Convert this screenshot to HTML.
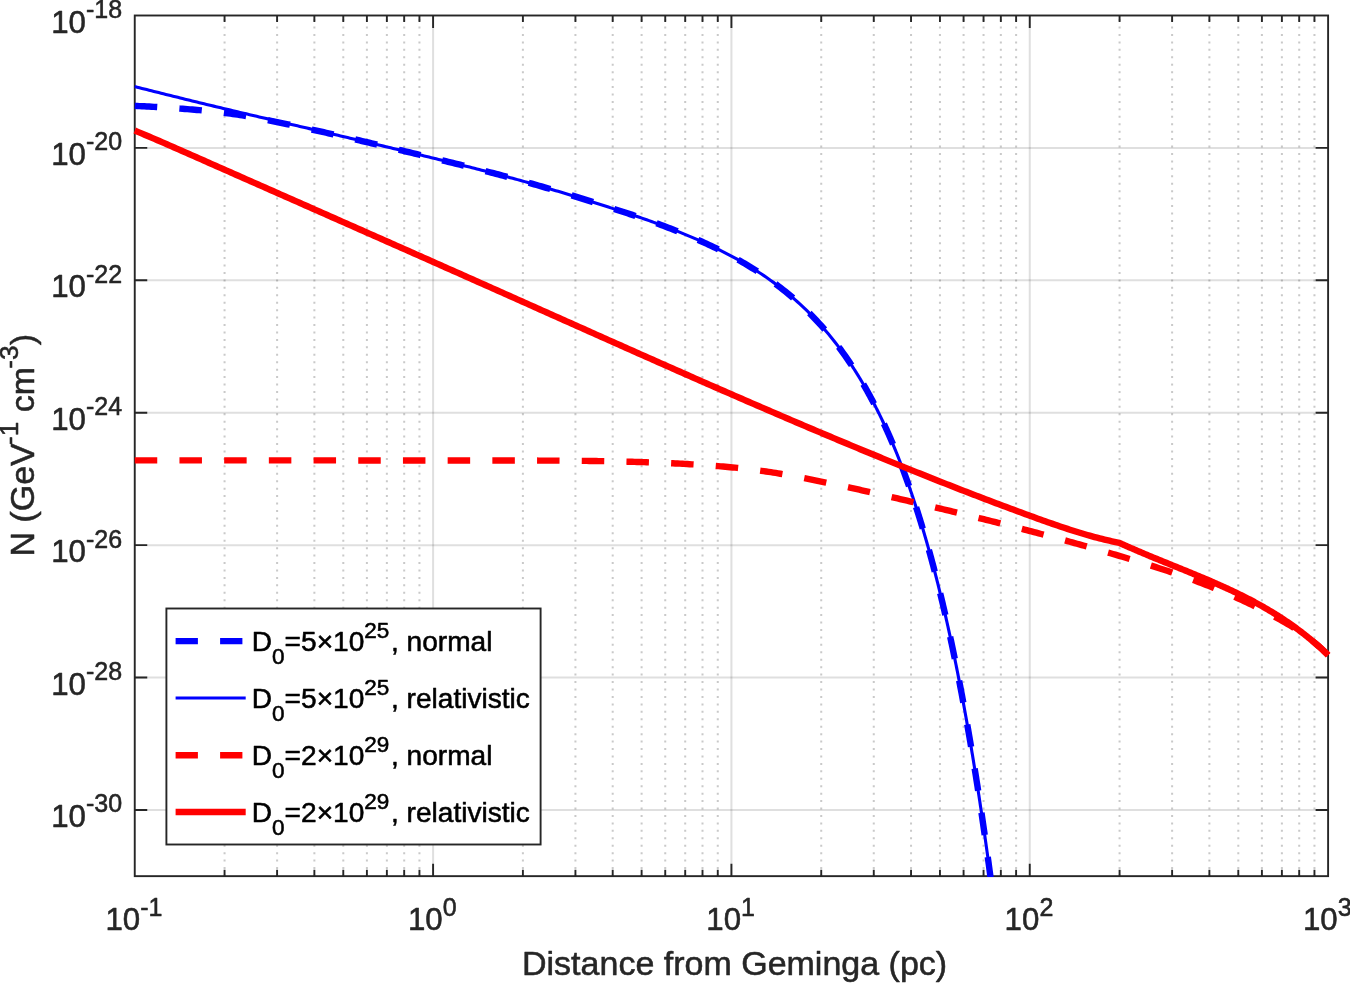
<!DOCTYPE html>
<html lang="en"><head><meta charset="utf-8"><title>N vs distance from Geminga</title>
<style>html,body{margin:0;padding:0;background:#fff}body{width:1350px;height:983px;overflow:hidden}</style></head>
<body>
<svg width="1350" height="983" viewBox="0 0 1350 983" style="display:block;font-family:'Liberation Sans', Arial, Helvetica, sans-serif">
<rect width="1350" height="983" fill="#fff"/>
<defs><clipPath id="cp"><rect x="126.75" y="14.60" width="1209.35" height="862.45"/></clipPath></defs>
<g stroke="#262626" stroke-opacity="0.15" stroke-width="2" fill="none">
<path d="M433.09 15.5V876.15"/>
<path d="M731.42 15.5V876.15"/>
<path d="M1029.76 15.5V876.15"/>
<path d="M134.75 809.95H1328.1"/>
<path d="M134.75 677.54H1328.1"/>
<path d="M134.75 545.13H1328.1"/>
<path d="M134.75 412.72H1328.1"/>
<path d="M134.75 280.32H1328.1"/>
<path d="M134.75 147.91H1328.1"/>
</g>
<g stroke="#262626" stroke-opacity="0.25" stroke-width="2" stroke-dasharray="2 5.438" fill="none">
<path d="M224.56 876.45V15.5"/>
<path d="M277.09 876.45V15.5"/>
<path d="M314.37 876.45V15.5"/>
<path d="M343.28 876.45V15.5"/>
<path d="M366.90 876.45V15.5"/>
<path d="M386.87 876.45V15.5"/>
<path d="M404.18 876.45V15.5"/>
<path d="M419.44 876.45V15.5"/>
<path d="M522.90 876.45V15.5"/>
<path d="M575.43 876.45V15.5"/>
<path d="M612.70 876.45V15.5"/>
<path d="M641.62 876.45V15.5"/>
<path d="M665.24 876.45V15.5"/>
<path d="M685.21 876.45V15.5"/>
<path d="M702.51 876.45V15.5"/>
<path d="M717.77 876.45V15.5"/>
<path d="M821.23 876.45V15.5"/>
<path d="M873.77 876.45V15.5"/>
<path d="M911.04 876.45V15.5"/>
<path d="M939.95 876.45V15.5"/>
<path d="M963.58 876.45V15.5"/>
<path d="M983.55 876.45V15.5"/>
<path d="M1000.85 876.45V15.5"/>
<path d="M1016.11 876.45V15.5"/>
<path d="M1119.57 876.45V15.5"/>
<path d="M1172.11 876.45V15.5"/>
<path d="M1209.38 876.45V15.5"/>
<path d="M1238.29 876.45V15.5"/>
<path d="M1261.91 876.45V15.5"/>
<path d="M1281.89 876.45V15.5"/>
<path d="M1299.19 876.45V15.5"/>
<path d="M1314.45 876.45V15.5"/>
</g>
<g stroke="#262626" stroke-width="1.9" fill="none" stroke-linecap="butt">
<rect x="134.75" y="15.5" width="1193.35" height="860.65"/>
<path d="M433.09 876.15v-12.5M433.09 15.5v12.5M731.42 876.15v-12.5M731.42 15.5v12.5M1029.76 876.15v-12.5M1029.76 15.5v12.5M224.56 876.15v-6.5M224.56 15.5v6.5M277.09 876.15v-6.5M277.09 15.5v6.5M314.37 876.15v-6.5M314.37 15.5v6.5M343.28 876.15v-6.5M343.28 15.5v6.5M366.90 876.15v-6.5M366.90 15.5v6.5M386.87 876.15v-6.5M386.87 15.5v6.5M404.18 876.15v-6.5M404.18 15.5v6.5M419.44 876.15v-6.5M419.44 15.5v6.5M522.90 876.15v-6.5M522.90 15.5v6.5M575.43 876.15v-6.5M575.43 15.5v6.5M612.70 876.15v-6.5M612.70 15.5v6.5M641.62 876.15v-6.5M641.62 15.5v6.5M665.24 876.15v-6.5M665.24 15.5v6.5M685.21 876.15v-6.5M685.21 15.5v6.5M702.51 876.15v-6.5M702.51 15.5v6.5M717.77 876.15v-6.5M717.77 15.5v6.5M821.23 876.15v-6.5M821.23 15.5v6.5M873.77 876.15v-6.5M873.77 15.5v6.5M911.04 876.15v-6.5M911.04 15.5v6.5M939.95 876.15v-6.5M939.95 15.5v6.5M963.58 876.15v-6.5M963.58 15.5v6.5M983.55 876.15v-6.5M983.55 15.5v6.5M1000.85 876.15v-6.5M1000.85 15.5v6.5M1016.11 876.15v-6.5M1016.11 15.5v6.5M1119.57 876.15v-6.5M1119.57 15.5v6.5M1172.11 876.15v-6.5M1172.11 15.5v6.5M1209.38 876.15v-6.5M1209.38 15.5v6.5M1238.29 876.15v-6.5M1238.29 15.5v6.5M1261.91 876.15v-6.5M1261.91 15.5v6.5M1281.89 876.15v-6.5M1281.89 15.5v6.5M1299.19 876.15v-6.5M1299.19 15.5v6.5M1314.45 876.15v-6.5M1314.45 15.5v6.5M134.75 809.95h12.5M1328.1 809.95h-12.5M134.75 677.54h12.5M1328.1 677.54h-12.5M134.75 545.13h12.5M1328.1 545.13h-12.5M134.75 412.72h12.5M1328.1 412.72h-12.5M134.75 280.32h12.5M1328.1 280.32h-12.5M134.75 147.91h12.5M1328.1 147.91h-12.5"/>
</g>
<g clip-path="url(#cp)" fill="none" stroke-linejoin="round">
<path d="M134.75 105.90L137.14 106.00L139.53 106.10L141.93 106.21L144.32 106.32L146.71 106.44L149.10 106.57L151.49 106.70L153.89 106.84L156.28 106.97L158.67 107.12L161.06 107.26L163.46 107.41L165.85 107.57L168.24 107.73L170.63 107.89L173.02 108.06L175.42 108.23L177.81 108.40L180.20 108.58L182.59 108.77L184.98 108.95L187.38 109.14L189.77 109.34L192.16 109.54L194.55 109.75L196.95 109.96L199.34 110.18L201.73 110.40L204.12 110.63L206.51 110.87L208.91 111.12L211.30 111.37L213.69 111.63L216.08 111.89L218.47 112.16L220.87 112.44L223.26 112.73L225.65 113.03L228.04 113.33L230.44 113.64L232.83 113.96L235.22 114.29L237.61 114.63L240.00 114.99L242.40 115.38L244.79 115.77L247.18 116.19L249.57 116.62L251.96 117.06L254.36 117.51L256.75 117.97L259.14 118.44L261.53 118.92L263.93 119.40L266.32 119.88L268.71 120.37L271.10 120.86L273.49 121.35L275.89 121.83L278.28 122.32L280.67 122.80L283.06 123.29L285.45 123.78L287.85 124.29L290.24 124.79L292.63 125.31L295.02 125.82L297.42 126.35L299.81 126.87L302.20 127.40L304.59 127.93L306.98 128.46L309.38 129.00L311.77 129.53L314.16 130.07L316.55 130.60L318.94 131.14L321.34 131.68L323.73 132.21L326.12 132.75L328.51 133.29L330.91 133.83L333.30 134.37L335.69 134.91L338.08 135.46L340.47 136.01L342.87 136.56L345.26 137.11L347.65 137.66L350.04 138.22L352.43 138.77L354.83 139.33L357.22 139.89L359.61 140.45L362.00 141.02L364.40 141.59L366.79 142.15L369.18 142.72L371.57 143.29L373.96 143.86L376.36 144.42L378.75 144.99L381.14 145.56L383.53 146.13L385.92 146.70L388.32 147.27L390.71 147.84L393.10 148.41L395.49 148.98L397.89 149.56L400.28 150.13L402.67 150.70L405.06 151.28L407.45 151.85L409.85 152.43L412.24 153.00L414.63 153.58L417.02 154.16L419.41 154.74L421.81 155.32L424.20 155.90L426.59 156.48L428.98 157.07L431.38 157.65L433.77 158.24L436.16 158.83L438.55 159.41L440.94 160.00L443.34 160.59L445.73 161.18L448.12 161.77L450.51 162.36L452.90 162.95L455.30 163.54L457.69 164.13L460.08 164.72L462.47 165.32L464.87 165.92L467.26 166.51L469.65 167.11L472.04 167.71L474.43 168.32L476.83 168.92L479.22 169.53L481.61 170.14L484.00 170.75L486.39 171.36L488.79 171.98L491.18 172.59L493.57 173.21L495.96 173.84L498.36 174.46L500.75 175.09L503.14 175.73L505.53 176.37L507.92 177.01L510.32 177.66L512.71 178.31L515.10 178.96L517.49 179.62L519.88 180.29L522.28 180.95L524.67 181.63L527.06 182.30L529.45 182.98L531.85 183.66L534.24 184.34L536.63 185.03L539.02 185.72L541.41 186.42L543.81 187.11L546.20 187.81L548.59 188.52L550.98 189.22L553.37 189.93L555.77 190.64L558.16 191.35L560.55 192.06L562.94 192.78L565.34 193.50L567.73 194.22L570.12 194.94L572.51 195.67L574.90 196.40L577.30 197.13L579.69 197.86L582.08 198.61L584.47 199.36L586.86 200.12L589.26 200.88L591.65 201.65L594.04 202.42L596.43 203.19L598.83 203.97L601.22 204.74L603.61 205.52L606.00 206.30L608.39 207.08L610.79 207.86L613.18 208.64L615.57 209.42L617.96 210.19L620.35 210.96L622.75 211.74L625.14 212.52L627.53 213.30L629.92 214.09L632.32 214.89L634.71 215.69L637.10 216.50L639.49 217.32L641.88 218.14L644.28 218.97L646.67 219.81L649.06 220.65L651.45 221.50L653.84 222.36L656.24 223.22L658.63 224.10L661.02 224.98L663.41 225.87L665.81 226.77L668.20 227.68L670.59 228.60L672.98 229.53L675.37 230.46L677.77 231.41L680.16 232.37L682.55 233.34L684.94 234.32L687.33 235.31L689.73 236.31L692.12 237.33L694.51 238.36L696.90 239.40L699.30 240.45L701.69 241.52L704.08 242.60L706.47 243.69L708.86 244.80L711.26 245.93L713.65 247.07L716.04 248.23L718.43 249.40L720.82 250.60L723.22 251.80L725.61 253.03L728.00 254.28L730.39 255.54L732.79 256.83L735.18 258.14L737.57 259.46L739.96 260.81L742.35 262.18L744.75 263.58L747.14 265.00L749.53 266.44L751.92 267.91L754.31 269.40L756.71 270.92L759.10 272.47L761.49 274.04L763.88 275.65L766.28 277.29L768.67 278.95L771.06 280.65L773.45 282.38L775.84 284.15L778.24 285.95L780.63 287.79L783.02 289.66L785.41 291.57L787.80 293.52L790.20 295.51L792.59 297.55L794.98 299.62L797.37 301.75L799.77 303.91L802.16 306.13L804.55 308.39L806.94 310.70L809.33 313.07L811.73 315.48L814.12 317.96L816.51 320.48L818.90 323.07L821.29 325.72L823.69 328.42L826.08 331.20L828.47 334.03L830.86 336.94L833.26 339.91L835.65 342.96L838.04 346.08L840.43 349.28L842.82 352.55L845.22 355.91L847.61 359.35L850.00 362.87L850.36 363.42L850.73 363.96L851.09 364.51L851.45 365.06L851.82 365.61L852.18 366.17L852.54 366.72L852.91 367.28L853.27 367.84L853.63 368.40L854.00 368.97L854.36 369.53L854.72 370.10L855.09 370.67L855.45 371.24L855.81 371.82L856.18 372.40L856.54 372.98L856.90 373.56L857.27 374.14L857.63 374.73L857.99 375.32L858.36 375.91L858.72 376.50L859.09 377.10L859.45 377.69L859.81 378.29L860.18 378.90L860.54 379.50L860.90 380.11L861.27 380.72L861.63 381.33L861.99 381.94L862.36 382.56L862.72 383.18L863.08 383.80L863.45 384.42L863.81 385.05L864.17 385.68L864.54 386.31L864.90 386.94L865.26 387.58L865.63 388.22L865.99 388.86L866.35 389.50L866.72 390.15L867.08 390.79L867.44 391.44L867.81 392.10L868.17 392.75L868.53 393.41L868.90 394.07L869.26 394.74L869.62 395.40L869.99 396.07L870.35 396.74L870.71 397.42L871.08 398.10L871.44 398.78L871.80 399.46L872.17 400.14L872.53 400.83L872.89 401.52L873.26 402.21L873.62 402.91L873.98 403.61L874.35 404.31L874.71 405.01L875.08 405.72L875.44 406.43L875.80 407.14L876.17 407.86L876.53 408.58L876.89 409.30L877.26 410.02L877.62 410.75L877.98 411.48L878.35 412.21L878.71 412.95L879.07 413.69L879.44 414.43L879.80 415.17L880.16 415.92L880.53 416.67L880.89 417.42L881.25 418.18L881.62 418.94L881.98 419.70L882.34 420.47L882.71 421.24L883.07 422.01L883.43 422.78L883.80 423.56L884.16 424.34L884.52 425.13L884.89 425.92L885.25 426.71L885.61 427.50L885.98 428.30L886.34 429.10L886.70 429.90L887.07 430.71L887.43 431.52L887.79 432.33L888.16 433.15L888.52 433.97L888.88 434.79L889.25 435.62L889.61 436.45L889.97 437.28L890.34 438.12L890.70 438.96L891.07 439.80L891.43 440.65L891.79 441.50L892.16 442.36L892.52 443.21L892.88 444.08L893.25 444.94L893.61 445.81L893.97 446.68L894.34 447.56L894.70 448.43L895.06 449.32L895.43 450.20L895.79 451.09L896.15 451.99L896.52 452.88L896.88 453.78L897.24 454.69L897.61 455.60L897.97 456.51L898.33 457.42L898.70 458.34L899.06 459.27L899.42 460.19L899.79 461.13L900.15 462.06L900.51 463.00L900.88 463.94L901.24 464.89L901.60 465.84L901.97 466.79L902.33 467.75L902.69 468.71L903.06 469.68L903.42 470.65L903.78 471.62L904.15 472.60L904.51 473.58L904.87 474.57L905.24 475.56L905.60 476.56L905.96 477.55L906.33 478.56L906.69 479.56L907.06 480.58L907.42 481.59L907.78 482.61L908.15 483.64L908.51 484.66L908.87 485.70L909.24 486.73L909.60 487.77L909.96 488.82L910.33 489.87L910.69 490.93L911.05 491.98L911.42 493.05L911.78 494.11L912.14 495.19L912.51 496.26L912.87 497.35L913.23 498.43L913.60 499.52L913.96 500.62L914.32 501.72L914.69 502.82L915.05 503.93L915.41 505.04L915.78 506.16L916.14 507.28L916.50 508.41L916.87 509.54L917.23 510.68L917.59 511.82L917.96 512.97L918.32 514.12L918.68 515.28L919.05 516.44L919.41 517.61L919.77 518.78L920.14 519.95L920.50 521.13L920.86 522.32L921.23 523.51L921.59 524.71L921.95 525.91L922.32 527.12L922.68 528.33L923.05 529.54L923.41 530.77L923.77 531.99L924.14 533.23L924.50 534.46L924.86 535.71L925.23 536.95L925.59 538.21L925.95 539.47L926.32 540.73L926.68 542.00L927.04 543.28L927.41 544.56L927.77 545.84L928.13 547.13L928.50 548.43L928.86 549.73L929.22 551.04L929.59 552.35L929.95 553.67L930.31 555.00L930.68 556.33L931.04 557.67L931.40 559.01L931.77 560.35L932.13 561.71L932.49 563.07L932.86 564.43L933.22 565.80L933.58 567.18L933.95 568.56L934.31 569.95L934.67 571.35L935.04 572.75L935.40 574.16L935.76 575.57L936.13 576.99L936.49 578.41L936.85 579.84L937.22 581.28L937.58 582.72L937.94 584.17L938.31 585.63L938.67 587.09L939.04 588.56L939.40 590.04L939.76 591.52L940.13 593.01L940.49 594.50L940.85 596.00L941.22 597.51L941.58 599.02L941.94 600.54L942.31 602.07L942.67 603.60L943.03 605.14L943.40 606.69L943.76 608.24L944.12 609.80L944.49 611.37L944.85 612.94L945.21 614.52L945.58 616.11L945.94 617.71L946.30 619.31L946.67 620.91L947.03 622.53L947.39 624.15L947.76 625.78L948.12 627.42L948.48 629.06L948.85 630.71L949.21 632.37L949.57 634.04L949.94 635.71L950.30 637.39L950.66 639.07L951.03 640.77L951.39 642.47L951.75 644.18L952.12 645.90L952.48 647.62L952.84 649.35L953.21 651.09L953.57 652.84L953.93 654.59L954.30 656.36L954.66 658.12L955.03 659.90L955.39 661.69L955.75 663.48L956.12 665.28L956.48 667.09L956.84 668.91L957.21 670.73L957.57 672.57L957.93 674.41L958.30 676.26L958.66 678.11L959.02 679.98L959.39 681.85L959.75 683.73L960.11 685.62L960.48 687.52L960.84 689.43L961.20 691.34L961.57 693.27L961.93 695.20L962.29 697.14L962.66 699.09L963.02 701.05L963.38 703.01L963.75 704.99L964.11 706.97L964.47 708.96L964.84 710.96L965.20 712.97L965.56 714.99L965.93 717.02L966.29 719.06L966.65 721.10L967.02 723.16L967.38 725.22L967.74 727.29L968.11 729.37L968.47 731.47L968.83 733.57L969.20 735.68L969.56 737.79L969.92 739.92L970.29 742.06L970.65 744.21L971.02 746.37L971.38 748.53L971.74 750.71L972.11 752.89L972.47 755.09L972.83 757.29L973.20 759.51L973.56 761.73L973.92 763.97L974.29 766.21L974.65 768.47L975.01 770.73L975.38 773.00L975.74 775.29L976.10 777.58L976.47 779.89L976.83 782.20L977.19 784.53L977.56 786.86L977.92 789.21L978.28 791.57L978.65 793.93L979.01 796.31L979.37 798.70L979.74 801.10L980.10 803.51L980.46 805.93L980.83 808.36L981.19 810.80L981.55 813.25L981.92 815.72L982.28 818.19L982.64 820.68L983.01 823.17L983.37 825.68L983.73 828.20L984.10 830.73L984.46 833.27L984.82 835.83L985.19 838.39L985.55 840.97L985.91 843.55L986.28 846.15L986.64 848.76L987.01 851.38L987.37 854.02L987.73 856.66L988.10 859.32L988.46 861.99L988.82 864.67L989.19 867.37L989.55 870.07L989.91 872.79L990.28 875.52L990.64 878.26L991.00 881.01L991.37 883.78L991.73 886.56L992.09 889.35L992.46 892.16L992.82 894.97L993.18 897.80L993.55 900.64L993.91 903.50L994.27 906.36L994.64 909.24L995.00 912.14" stroke="#0000ff" stroke-width="6.4" stroke-dasharray="22.5 22.2"/>
<path d="M134.75 86.58L137.14 87.18L139.53 87.79L141.93 88.39L144.32 89.00L146.71 89.60L149.10 90.20L151.49 90.80L153.89 91.40L156.28 92.00L158.67 92.60L161.06 93.20L163.46 93.80L165.85 94.40L168.24 94.99L170.63 95.59L173.02 96.18L175.42 96.78L177.81 97.37L180.20 97.96L182.59 98.55L184.98 99.14L187.38 99.73L189.77 100.32L192.16 100.90L194.55 101.49L196.95 102.07L199.34 102.65L201.73 103.23L204.12 103.81L206.51 104.39L208.91 104.97L211.30 105.55L213.69 106.12L216.08 106.70L218.47 107.27L220.87 107.84L223.26 108.41L225.65 108.98L228.04 109.55L230.44 110.12L232.83 110.69L235.22 111.26L237.61 111.82L240.00 112.39L242.40 112.95L244.79 113.52L247.18 114.08L249.57 114.64L251.96 115.21L254.36 115.77L256.75 116.33L259.14 116.89L261.53 117.45L263.93 118.01L266.32 118.57L268.71 119.13L271.10 119.69L273.49 120.25L275.89 120.81L278.28 121.37L280.67 121.92L283.06 122.48L285.45 123.04L287.85 123.60L290.24 124.16L292.63 124.71L295.02 125.27L297.42 125.83L299.81 126.39L302.20 126.94L304.59 127.50L306.98 128.06L309.38 128.62L311.77 129.18L314.16 129.74L316.55 130.30L318.94 130.86L321.34 131.42L323.73 131.98L326.12 132.54L328.51 133.10L330.91 133.66L333.30 134.22L335.69 134.79L338.08 135.35L340.47 135.92L342.87 136.48L345.26 137.05L347.65 137.61L350.04 138.18L352.43 138.75L354.83 139.32L357.22 139.88L359.61 140.45L362.00 141.02L364.40 141.59L366.79 142.15L369.18 142.72L371.57 143.29L373.96 143.86L376.36 144.42L378.75 144.99L381.14 145.56L383.53 146.13L385.92 146.70L388.32 147.27L390.71 147.84L393.10 148.41L395.49 148.98L397.89 149.56L400.28 150.13L402.67 150.70L405.06 151.28L407.45 151.85L409.85 152.43L412.24 153.00L414.63 153.58L417.02 154.16L419.41 154.74L421.81 155.32L424.20 155.90L426.59 156.48L428.98 157.07L431.38 157.65L433.77 158.24L436.16 158.83L438.55 159.41L440.94 160.00L443.34 160.59L445.73 161.18L448.12 161.77L450.51 162.36L452.90 162.95L455.30 163.54L457.69 164.13L460.08 164.72L462.47 165.32L464.87 165.92L467.26 166.51L469.65 167.11L472.04 167.71L474.43 168.32L476.83 168.92L479.22 169.53L481.61 170.14L484.00 170.75L486.39 171.36L488.79 171.98L491.18 172.59L493.57 173.21L495.96 173.84L498.36 174.46L500.75 175.09L503.14 175.73L505.53 176.37L507.92 177.01L510.32 177.66L512.71 178.31L515.10 178.96L517.49 179.62L519.88 180.29L522.28 180.95L524.67 181.63L527.06 182.30L529.45 182.98L531.85 183.66L534.24 184.34L536.63 185.03L539.02 185.72L541.41 186.42L543.81 187.11L546.20 187.81L548.59 188.52L550.98 189.22L553.37 189.93L555.77 190.64L558.16 191.35L560.55 192.06L562.94 192.78L565.34 193.50L567.73 194.22L570.12 194.94L572.51 195.67L574.90 196.40L577.30 197.13L579.69 197.86L582.08 198.61L584.47 199.36L586.86 200.12L589.26 200.88L591.65 201.65L594.04 202.42L596.43 203.19L598.83 203.97L601.22 204.74L603.61 205.52L606.00 206.30L608.39 207.08L610.79 207.86L613.18 208.64L615.57 209.42L617.96 210.19L620.35 210.96L622.75 211.74L625.14 212.52L627.53 213.30L629.92 214.09L632.32 214.89L634.71 215.69L637.10 216.50L639.49 217.32L641.88 218.14L644.28 218.97L646.67 219.81L649.06 220.65L651.45 221.50L653.84 222.36L656.24 223.22L658.63 224.10L661.02 224.98L663.41 225.87L665.81 226.77L668.20 227.68L670.59 228.60L672.98 229.53L675.37 230.46L677.77 231.41L680.16 232.37L682.55 233.34L684.94 234.32L687.33 235.31L689.73 236.31L692.12 237.33L694.51 238.36L696.90 239.40L699.30 240.45L701.69 241.52L704.08 242.60L706.47 243.69L708.86 244.80L711.26 245.93L713.65 247.07L716.04 248.23L718.43 249.40L720.82 250.60L723.22 251.80L725.61 253.03L728.00 254.28L730.39 255.54L732.79 256.83L735.18 258.14L737.57 259.46L739.96 260.81L742.35 262.18L744.75 263.58L747.14 265.00L749.53 266.44L751.92 267.91L754.31 269.40L756.71 270.92L759.10 272.47L761.49 274.04L763.88 275.65L766.28 277.29L768.67 278.95L771.06 280.65L773.45 282.38L775.84 284.15L778.24 285.95L780.63 287.79L783.02 289.66L785.41 291.57L787.80 293.52L790.20 295.51L792.59 297.55L794.98 299.62L797.37 301.75L799.77 303.91L802.16 306.13L804.55 308.39L806.94 310.70L809.33 313.07L811.73 315.48L814.12 317.96L816.51 320.48L818.90 323.07L821.29 325.72L823.69 328.42L826.08 331.20L828.47 334.03L830.86 336.94L833.26 339.91L835.65 342.96L838.04 346.08L840.43 349.28L842.82 352.55L845.22 355.91L847.61 359.35L850.00 362.87L850.36 363.42L850.73 363.96L851.09 364.51L851.45 365.06L851.82 365.61L852.18 366.17L852.54 366.72L852.91 367.28L853.27 367.84L853.63 368.40L854.00 368.97L854.36 369.53L854.72 370.10L855.09 370.67L855.45 371.24L855.81 371.82L856.18 372.40L856.54 372.98L856.90 373.56L857.27 374.14L857.63 374.73L857.99 375.32L858.36 375.91L858.72 376.50L859.09 377.10L859.45 377.69L859.81 378.29L860.18 378.90L860.54 379.50L860.90 380.11L861.27 380.72L861.63 381.33L861.99 381.94L862.36 382.56L862.72 383.18L863.08 383.80L863.45 384.42L863.81 385.05L864.17 385.68L864.54 386.31L864.90 386.94L865.26 387.58L865.63 388.22L865.99 388.86L866.35 389.50L866.72 390.15L867.08 390.79L867.44 391.44L867.81 392.10L868.17 392.75L868.53 393.41L868.90 394.07L869.26 394.74L869.62 395.40L869.99 396.07L870.35 396.74L870.71 397.42L871.08 398.10L871.44 398.78L871.80 399.46L872.17 400.14L872.53 400.83L872.89 401.52L873.26 402.21L873.62 402.91L873.98 403.61L874.35 404.31L874.71 405.01L875.08 405.72L875.44 406.43L875.80 407.14L876.17 407.86L876.53 408.58L876.89 409.30L877.26 410.02L877.62 410.75L877.98 411.48L878.35 412.21L878.71 412.95L879.07 413.69L879.44 414.43L879.80 415.17L880.16 415.92L880.53 416.67L880.89 417.42L881.25 418.18L881.62 418.94L881.98 419.70L882.34 420.47L882.71 421.24L883.07 422.01L883.43 422.78L883.80 423.56L884.16 424.34L884.52 425.13L884.89 425.92L885.25 426.71L885.61 427.50L885.98 428.30L886.34 429.10L886.70 429.90L887.07 430.71L887.43 431.52L887.79 432.33L888.16 433.15L888.52 433.97L888.88 434.79L889.25 435.62L889.61 436.45L889.97 437.28L890.34 438.12L890.70 438.96L891.07 439.80L891.43 440.65L891.79 441.50L892.16 442.36L892.52 443.21L892.88 444.08L893.25 444.94L893.61 445.81L893.97 446.68L894.34 447.56L894.70 448.43L895.06 449.32L895.43 450.20L895.79 451.09L896.15 451.99L896.52 452.88L896.88 453.78L897.24 454.69L897.61 455.60L897.97 456.51L898.33 457.42L898.70 458.34L899.06 459.27L899.42 460.19L899.79 461.13L900.15 462.06L900.51 463.00L900.88 463.94L901.24 464.89L901.60 465.84L901.97 466.79L902.33 467.75L902.69 468.71L903.06 469.68L903.42 470.65L903.78 471.62L904.15 472.60L904.51 473.58L904.87 474.57L905.24 475.56L905.60 476.56L905.96 477.55L906.33 478.56L906.69 479.56L907.06 480.58L907.42 481.59L907.78 482.61L908.15 483.64L908.51 484.66L908.87 485.70L909.24 486.73L909.60 487.77L909.96 488.82L910.33 489.87L910.69 490.93L911.05 491.98L911.42 493.05L911.78 494.11L912.14 495.19L912.51 496.26L912.87 497.35L913.23 498.43L913.60 499.52L913.96 500.62L914.32 501.72L914.69 502.82L915.05 503.93L915.41 505.04L915.78 506.16L916.14 507.28L916.50 508.41L916.87 509.54L917.23 510.68L917.59 511.82L917.96 512.97L918.32 514.12L918.68 515.28L919.05 516.44L919.41 517.61L919.77 518.78L920.14 519.95L920.50 521.13L920.86 522.32L921.23 523.51L921.59 524.71L921.95 525.91L922.32 527.12L922.68 528.33L923.05 529.54L923.41 530.77L923.77 531.99L924.14 533.23L924.50 534.46L924.86 535.71L925.23 536.95L925.59 538.21L925.95 539.47L926.32 540.73L926.68 542.00L927.04 543.28L927.41 544.56L927.77 545.84L928.13 547.13L928.50 548.43L928.86 549.73L929.22 551.04L929.59 552.35L929.95 553.67L930.31 555.00L930.68 556.33L931.04 557.67L931.40 559.01L931.77 560.35L932.13 561.71L932.49 563.07L932.86 564.43L933.22 565.80L933.58 567.18L933.95 568.56L934.31 569.95L934.67 571.35L935.04 572.75L935.40 574.16L935.76 575.57L936.13 576.99L936.49 578.41L936.85 579.84L937.22 581.28L937.58 582.72L937.94 584.17L938.31 585.63L938.67 587.09L939.04 588.56L939.40 590.04L939.76 591.52L940.13 593.01L940.49 594.50L940.85 596.00L941.22 597.51L941.58 599.02L941.94 600.54L942.31 602.07L942.67 603.60L943.03 605.14L943.40 606.69L943.76 608.24L944.12 609.80L944.49 611.37L944.85 612.94L945.21 614.52L945.58 616.11L945.94 617.71L946.30 619.31L946.67 620.91L947.03 622.53L947.39 624.15L947.76 625.78L948.12 627.42L948.48 629.06L948.85 630.71L949.21 632.37L949.57 634.04L949.94 635.71L950.30 637.39L950.66 639.07L951.03 640.77L951.39 642.47L951.75 644.18L952.12 645.90L952.48 647.62L952.84 649.35L953.21 651.09L953.57 652.84L953.93 654.59L954.30 656.36L954.66 658.12L955.03 659.90L955.39 661.69L955.75 663.48L956.12 665.28L956.48 667.09L956.84 668.91L957.21 670.73L957.57 672.57L957.93 674.41L958.30 676.26L958.66 678.11L959.02 679.98L959.39 681.85L959.75 683.73L960.11 685.62L960.48 687.52L960.84 689.43L961.20 691.34L961.57 693.27L961.93 695.20L962.29 697.14L962.66 699.09L963.02 701.05L963.38 703.01L963.75 704.99L964.11 706.97L964.47 708.96L964.84 710.96L965.20 712.97L965.56 714.99L965.93 717.02L966.29 719.06L966.65 721.10L967.02 723.16L967.38 725.22L967.74 727.29L968.11 729.37L968.47 731.47L968.83 733.57L969.20 735.68L969.56 737.79L969.92 739.92L970.29 742.06L970.65 744.21L971.02 746.37L971.38 748.53L971.74 750.71L972.11 752.89L972.47 755.09L972.83 757.29L973.20 759.51L973.56 761.73L973.92 763.97L974.29 766.21L974.65 768.47L975.01 770.73L975.38 773.00L975.74 775.29L976.10 777.58L976.47 779.89L976.83 782.20L977.19 784.53L977.56 786.86L977.92 789.21L978.28 791.57L978.65 793.93L979.01 796.31L979.37 798.70L979.74 801.10L980.10 803.51L980.46 805.93L980.83 808.36L981.19 810.80L981.55 813.25L981.92 815.72L982.28 818.19L982.64 820.68L983.01 823.17L983.37 825.68L983.73 828.20L984.10 830.73L984.46 833.27L984.82 835.83L985.19 838.39L985.55 840.97L985.91 843.55L986.28 846.15L986.64 848.76L987.01 851.38L987.37 854.02L987.73 856.66L988.10 859.32L988.46 861.99L988.82 864.67L989.19 867.37L989.55 870.07L989.91 872.79L990.28 875.52L990.64 878.26L991.00 881.01L991.37 883.78L991.73 886.56L992.09 889.35L992.46 892.16L992.82 894.97L993.18 897.80L993.55 900.64L993.91 903.50L994.27 906.36L994.64 909.24L995.00 912.14" stroke="#0000ff" stroke-width="3.1"/>
<path d="M134.75 460.41L137.14 460.41L139.53 460.41L141.92 460.40L144.32 460.40L146.71 460.40L149.10 460.40L151.49 460.40L153.88 460.40L156.27 460.40L158.66 460.40L161.06 460.39L163.45 460.39L165.84 460.39L168.23 460.39L170.62 460.39L173.01 460.39L175.41 460.39L177.80 460.39L180.19 460.39L182.58 460.39L184.97 460.39L187.36 460.39L189.75 460.38L192.15 460.38L194.54 460.38L196.93 460.38L199.32 460.38L201.71 460.38L204.10 460.38L206.49 460.38L208.89 460.38L211.28 460.38L213.67 460.38L216.06 460.38L218.45 460.38L220.84 460.38L223.23 460.38L225.63 460.38L228.02 460.38L230.41 460.38L232.80 460.38L235.19 460.38L237.58 460.38L239.98 460.38L242.37 460.38L244.76 460.38L247.15 460.38L249.54 460.39L251.93 460.39L254.32 460.39L256.72 460.39L259.11 460.39L261.50 460.39L263.89 460.39L266.28 460.39L268.67 460.39L271.06 460.39L273.46 460.39L275.85 460.39L278.24 460.39L280.63 460.39L283.02 460.39L285.41 460.40L287.80 460.40L290.20 460.40L292.59 460.40L294.98 460.40L297.37 460.40L299.76 460.40L302.15 460.40L304.55 460.40L306.94 460.40L309.33 460.41L311.72 460.41L314.11 460.41L316.50 460.41L318.89 460.41L321.29 460.41L323.68 460.41L326.07 460.41L328.46 460.42L330.85 460.42L333.24 460.42L335.63 460.42L338.03 460.42L340.42 460.42L342.81 460.42L345.20 460.43L347.59 460.43L349.98 460.43L352.37 460.43L354.77 460.43L357.16 460.43L359.55 460.43L361.94 460.44L364.33 460.44L366.72 460.44L369.12 460.44L371.51 460.44L373.90 460.44L376.29 460.44L378.68 460.45L381.07 460.45L383.46 460.45L385.86 460.45L388.25 460.45L390.64 460.45L393.03 460.46L395.42 460.46L397.81 460.46L400.20 460.46L402.60 460.46L404.99 460.46L407.38 460.47L409.77 460.47L412.16 460.47L414.55 460.47L416.94 460.47L419.34 460.47L421.73 460.48L424.12 460.48L426.51 460.48L428.90 460.48L431.29 460.48L433.69 460.48L436.08 460.49L438.47 460.49L440.86 460.49L443.25 460.49L445.64 460.49L448.03 460.49L450.43 460.50L452.82 460.50L455.21 460.50L457.60 460.50L459.99 460.50L462.38 460.50L464.77 460.51L467.17 460.51L469.56 460.51L471.95 460.51L474.34 460.51L476.73 460.51L479.12 460.52L481.52 460.52L483.91 460.52L486.30 460.52L488.69 460.52L491.08 460.52L493.47 460.52L495.86 460.53L498.26 460.53L500.65 460.53L503.04 460.53L505.43 460.53L507.82 460.53L510.21 460.53L512.60 460.54L515.00 460.54L517.39 460.54L519.78 460.54L522.17 460.55L524.56 460.55L526.95 460.55L529.34 460.56L531.74 460.56L534.13 460.57L536.52 460.57L538.91 460.58L541.30 460.59L543.69 460.60L546.09 460.61L548.48 460.61L550.87 460.63L553.26 460.64L555.65 460.65L558.04 460.66L560.43 460.68L562.83 460.69L565.22 460.71L567.61 460.73L570.00 460.75L572.39 460.77L574.78 460.79L577.17 460.81L579.57 460.83L581.96 460.86L584.35 460.89L586.74 460.92L589.13 460.95L591.52 460.98L593.91 461.01L596.31 461.05L598.70 461.08L601.09 461.12L603.48 461.16L605.87 461.20L608.26 461.25L610.66 461.29L613.05 461.34L615.44 461.39L617.83 461.44L620.22 461.50L622.61 461.56L625.00 461.61L627.40 461.68L629.79 461.74L632.18 461.80L634.57 461.87L636.96 461.94L639.35 462.02L641.74 462.09L644.14 462.17L646.53 462.25L648.92 462.33L651.31 462.42L653.70 462.51L656.09 462.60L658.48 462.69L660.88 462.79L663.27 462.89L665.66 462.99L668.05 463.10L670.44 463.21L672.83 463.32L675.23 463.43L677.62 463.55L680.01 463.67L682.40 463.80L684.79 463.92L687.18 464.06L689.57 464.19L691.97 464.33L694.36 464.47L696.75 464.62L699.14 464.77L701.53 464.93L703.92 465.09L706.31 465.25L708.71 465.42L711.10 465.60L713.49 465.78L715.88 465.97L718.27 466.16L720.66 466.36L723.05 466.56L725.45 466.77L727.84 466.99L730.23 467.22L732.62 467.45L735.01 467.69L737.40 467.93L739.80 468.18L742.19 468.44L744.58 468.71L746.97 468.98L749.36 469.27L751.75 469.56L754.14 469.86L756.54 470.17L758.93 470.49L761.32 470.81L763.71 471.15L766.10 471.49L768.49 471.84L770.88 472.21L773.28 472.58L775.67 472.96L778.06 473.35L780.45 473.76L782.84 474.16L785.23 474.58L787.62 475.00L790.02 475.43L792.41 475.87L794.80 476.32L797.19 476.77L799.58 477.22L801.97 477.68L804.37 478.15L806.76 478.62L809.15 479.09L811.54 479.57L813.93 480.05L816.32 480.54L818.71 481.03L821.11 481.52L823.50 482.01L825.89 482.51L828.28 483.01L830.67 483.51L833.06 484.01L835.45 484.52L837.85 485.03L840.24 485.54L842.63 486.06L845.02 486.58L847.41 487.10L849.80 487.62L852.19 488.14L854.59 488.67L856.98 489.20L859.37 489.73L861.76 490.26L864.15 490.79L866.54 491.33L868.94 491.87L871.33 492.41L873.72 492.95L876.11 493.50L878.50 494.04L880.89 494.59L883.28 495.14L885.68 495.69L888.07 496.24L890.46 496.79L892.85 497.35L895.24 497.90L897.63 498.46L900.02 499.02L902.42 499.58L904.81 500.14L907.20 500.70L909.59 501.26L911.98 501.82L914.37 502.39L916.76 502.95L919.16 503.52L921.55 504.09L923.94 504.66L926.33 505.23L928.72 505.80L931.11 506.37L933.51 506.94L935.90 507.52L938.29 508.09L940.68 508.67L943.07 509.25L945.46 509.82L947.85 510.40L950.25 510.98L952.64 511.56L955.03 512.15L957.42 512.73L959.81 513.31L962.20 513.90L964.59 514.48L966.99 515.07L969.38 515.66L971.77 516.25L974.16 516.84L976.55 517.43L978.94 518.03L981.33 518.62L983.73 519.22L986.12 519.82L988.51 520.41L990.90 521.01L993.29 521.62L995.68 522.22L998.08 522.82L1000.47 523.43L1002.86 524.04L1005.25 524.65L1007.64 525.26L1010.03 525.87L1012.42 526.48L1014.82 527.10L1017.21 527.71L1019.60 528.33L1021.99 528.95L1024.38 529.57L1026.77 530.20L1029.16 530.82L1031.56 531.45L1033.95 532.08L1036.34 532.71L1038.73 533.34L1041.12 533.97L1043.51 534.61L1045.91 535.25L1048.30 535.89L1050.69 536.53L1053.08 537.17L1055.47 537.82L1057.86 538.47L1060.25 539.12L1062.65 539.77L1065.04 540.42L1067.43 541.08L1069.82 541.74L1072.21 542.40L1074.60 543.06L1076.99 543.72L1079.39 544.39L1081.78 545.06L1084.17 545.73L1086.56 546.40L1088.95 547.08L1091.34 547.76L1093.73 548.44L1096.13 549.12L1098.52 549.81L1100.91 550.49L1103.30 551.18L1105.69 551.88L1108.08 552.57L1110.48 553.27L1112.87 553.97L1115.26 554.67L1117.65 555.38L1120.04 556.08L1122.43 556.80L1124.82 557.51L1127.22 558.23L1129.61 558.95L1132.00 559.67L1134.39 560.40L1136.78 561.13L1139.17 561.86L1141.56 562.60L1143.96 563.35L1146.35 564.09L1148.74 564.85L1151.13 565.61L1153.52 566.37L1155.91 567.14L1158.30 567.92L1160.70 568.70L1163.09 569.48L1165.48 570.28L1167.87 571.08L1170.26 571.88L1172.65 572.70L1175.05 573.52L1177.44 574.35L1179.83 575.18L1182.22 576.03L1184.61 576.88L1187.00 577.74L1189.39 578.60L1191.79 579.48L1194.18 580.36L1196.57 581.26L1198.96 582.16L1201.35 583.07L1203.74 583.99L1206.13 584.92L1208.53 585.86L1210.92 586.81L1213.31 587.77L1215.70 588.75L1218.09 589.73L1220.48 590.72L1222.87 591.73L1225.27 592.74L1227.66 593.77L1230.05 594.81L1232.44 595.86L1234.83 596.93L1237.22 598.00L1239.62 599.09L1242.01 600.19L1244.40 601.31L1246.79 602.44L1249.18 603.58L1251.57 604.74L1253.96 605.91L1256.36 607.09L1258.75 608.29L1261.14 609.50L1263.53 610.73L1265.92 611.98L1268.31 613.24L1270.70 614.51L1273.10 615.80L1275.49 617.11L1277.88 618.43L1280.27 619.77L1282.66 621.13L1285.05 622.50L1287.44 623.90L1289.84 625.32L1292.23 626.77L1294.62 628.26L1297.01 629.79L1299.40 631.36L1301.79 632.98L1304.19 634.65L1306.58 636.38L1308.97 638.16L1311.36 640.02L1313.75 641.94L1316.14 643.94L1318.53 646.02L1320.93 648.18L1323.32 650.42L1325.71 652.76L1328.10 655.20" stroke="#ff0000" stroke-width="6.4" stroke-dasharray="22.5 22.2"/>
<path d="M134.75 130.57L137.22 131.60L139.69 132.63L142.15 133.67L144.62 134.71L147.09 135.75L149.56 136.80L152.02 137.86L154.49 138.92L156.96 139.98L159.43 141.04L161.89 142.11L164.36 143.18L166.83 144.25L169.30 145.33L171.76 146.40L174.23 147.48L176.70 148.56L179.17 149.65L181.63 150.73L184.10 151.82L186.57 152.91L189.04 153.99L191.50 155.08L193.97 156.17L196.44 157.26L198.91 158.35L201.37 159.44L203.84 160.53L206.31 161.62L208.78 162.71L211.24 163.81L213.71 164.90L216.18 165.99L218.65 167.08L221.11 168.16L223.58 169.25L226.05 170.34L228.52 171.43L230.98 172.52L233.45 173.61L235.92 174.70L238.39 175.79L240.85 176.88L243.32 177.97L245.79 179.06L248.26 180.15L250.72 181.24L253.19 182.33L255.66 183.42L258.13 184.51L260.59 185.60L263.06 186.69L265.53 187.78L268.00 188.87L270.46 189.96L272.93 191.05L275.40 192.14L277.87 193.23L280.34 194.32L282.80 195.40L285.27 196.49L287.74 197.58L290.21 198.67L292.67 199.76L295.14 200.85L297.61 201.94L300.08 203.03L302.54 204.12L305.01 205.21L307.48 206.30L309.95 207.39L312.41 208.48L314.88 209.57L317.35 210.66L319.82 211.75L322.28 212.84L324.75 213.93L327.22 215.02L329.69 216.11L332.15 217.20L334.62 218.29L337.09 219.38L339.56 220.47L342.02 221.56L344.49 222.65L346.96 223.74L349.43 224.83L351.89 225.93L354.36 227.02L356.83 228.11L359.30 229.20L361.76 230.29L364.23 231.38L366.70 232.47L369.17 233.56L371.63 234.65L374.10 235.75L376.57 236.84L379.04 237.93L381.50 239.02L383.97 240.11L386.44 241.21L388.91 242.30L391.37 243.39L393.84 244.48L396.31 245.57L398.78 246.67L401.24 247.76L403.71 248.85L406.18 249.95L408.65 251.04L411.11 252.13L413.58 253.23L416.05 254.32L418.52 255.41L420.99 256.51L423.45 257.60L425.92 258.69L428.39 259.79L430.86 260.88L433.32 261.98L435.79 263.07L438.26 264.17L440.73 265.26L443.19 266.36L445.66 267.45L448.13 268.55L450.60 269.64L453.06 270.74L455.53 271.84L458.00 272.93L460.47 274.03L462.93 275.13L465.40 276.22L467.87 277.32L470.34 278.42L472.80 279.51L475.27 280.61L477.74 281.71L480.21 282.81L482.67 283.91L485.14 285.00L487.61 286.10L490.08 287.20L492.54 288.30L495.01 289.40L497.48 290.50L499.95 291.60L502.41 292.70L504.88 293.80L507.35 294.90L509.82 296.00L512.28 297.10L514.75 298.20L517.22 299.30L519.69 300.40L522.15 301.50L524.62 302.60L527.09 303.70L529.56 304.81L532.02 305.91L534.49 307.01L536.96 308.11L539.43 309.21L541.89 310.31L544.36 311.42L546.83 312.52L549.30 313.62L551.76 314.72L554.23 315.82L556.70 316.93L559.17 318.03L561.64 319.13L564.10 320.23L566.57 321.33L569.04 322.44L571.51 323.54L573.97 324.64L576.44 325.74L578.91 326.84L581.38 327.94L583.84 329.04L586.31 330.15L588.78 331.25L591.25 332.35L593.71 333.45L596.18 334.55L598.65 335.65L601.12 336.75L603.58 337.85L606.05 338.95L608.52 340.05L610.99 341.15L613.45 342.25L615.92 343.34L618.39 344.44L620.86 345.54L623.32 346.64L625.79 347.74L628.26 348.83L630.73 349.93L633.19 351.03L635.66 352.12L638.13 353.22L640.60 354.32L643.06 355.41L645.53 356.51L648.00 357.60L650.47 358.69L652.93 359.79L655.40 360.88L657.87 361.97L660.34 363.07L662.80 364.16L665.27 365.25L667.74 366.34L670.21 367.43L672.67 368.52L675.14 369.61L677.61 370.70L680.08 371.79L682.54 372.88L685.01 373.97L687.48 375.05L689.95 376.14L692.41 377.23L694.88 378.31L697.35 379.40L699.82 380.48L702.29 381.56L704.75 382.65L707.22 383.73L709.69 384.81L712.16 385.89L714.62 386.97L717.09 388.05L719.56 389.13L722.03 390.21L724.49 391.29L726.96 392.36L729.43 393.44L731.90 394.51L734.36 395.59L736.83 396.66L739.30 397.74L741.77 398.81L744.23 399.88L746.70 400.95L749.17 402.02L751.64 403.09L754.10 404.16L756.57 405.23L759.04 406.29L761.51 407.36L763.97 408.43L766.44 409.49L768.91 410.55L771.38 411.62L773.84 412.68L776.31 413.74L778.78 414.80L781.25 415.86L783.71 416.91L786.18 417.97L788.65 419.03L791.12 420.08L793.58 421.14L796.05 422.19L798.52 423.24L800.99 424.29L803.45 425.34L805.92 426.39L808.39 427.44L810.86 428.49L813.32 429.53L815.79 430.58L818.26 431.62L820.73 432.66L823.19 433.70L825.66 434.74L828.13 435.78L830.60 436.82L833.06 437.86L835.53 438.89L838.00 439.93L840.47 440.96L842.94 441.99L845.40 443.02L847.87 444.05L850.34 445.08L852.81 446.11L855.27 447.14L857.74 448.16L860.21 449.19L862.68 450.21L865.14 451.23L867.61 452.25L870.08 453.27L872.55 454.28L875.01 455.30L877.48 456.31L879.95 457.33L882.42 458.34L884.88 459.35L887.35 460.36L889.82 461.37L892.29 462.37L894.75 463.38L897.22 464.38L899.69 465.38L902.16 466.38L904.62 467.38L907.09 468.38L909.56 469.38L912.03 470.37L914.49 471.36L916.96 472.35L919.43 473.34L921.90 474.33L924.36 475.32L926.83 476.30L929.30 477.28L931.77 478.27L934.23 479.25L936.70 480.22L939.17 481.20L941.64 482.17L944.10 483.15L946.57 484.12L949.04 485.09L951.51 486.05L953.97 487.02L956.44 487.98L958.91 488.94L961.38 489.90L963.84 490.86L966.31 491.82L968.78 492.77L971.25 493.72L973.71 494.67L976.18 495.62L978.65 496.57L981.12 497.51L983.59 498.46L986.05 499.40L988.52 500.33L990.99 501.27L993.46 502.20L995.92 503.14L998.39 504.07L1000.86 504.99L1003.33 505.92L1005.79 506.84L1008.26 507.76L1010.73 508.68L1013.20 509.60L1015.66 510.52L1018.13 511.43L1020.60 512.34L1023.07 513.25L1025.53 514.15L1028.00 515.05L1030.47 515.96L1032.94 516.85L1035.40 517.75L1037.87 518.64L1040.34 519.53L1042.81 520.41L1045.27 521.29L1047.74 522.16L1050.21 523.03L1052.68 523.89L1055.14 524.74L1057.61 525.59L1060.08 526.43L1062.55 527.26L1065.01 528.08L1067.48 528.89L1069.95 529.69L1072.42 530.48L1074.88 531.26L1077.35 532.03L1079.82 532.78L1082.29 533.53L1084.75 534.26L1087.22 534.97L1089.69 535.68L1092.16 536.37L1094.62 537.04L1097.09 537.70L1099.56 538.34L1102.03 538.97L1104.49 539.58L1106.96 540.17L1109.43 540.74L1111.90 541.30L1114.36 541.84L1116.83 542.36L1119.30 542.85L1120.70 543.49L1122.10 544.12L1123.50 544.74L1124.91 545.37L1126.31 545.99L1127.71 546.61L1129.11 547.22L1130.51 547.83L1131.91 548.44L1133.31 549.05L1134.71 549.66L1136.12 550.26L1137.52 550.86L1138.92 551.46L1140.32 552.06L1141.72 552.65L1143.12 553.24L1144.52 553.83L1145.93 554.42L1147.33 555.01L1148.73 555.59L1150.13 556.18L1151.53 556.76L1152.93 557.34L1154.33 557.92L1155.73 558.49L1157.14 559.07L1158.54 559.65L1159.94 560.22L1161.34 560.79L1162.74 561.37L1164.14 561.94L1165.54 562.51L1166.95 563.08L1168.35 563.65L1169.75 564.22L1171.15 564.79L1172.55 565.36L1173.95 565.92L1175.35 566.49L1176.76 567.06L1178.16 567.63L1179.56 568.20L1180.96 568.77L1182.36 569.34L1183.76 569.91L1185.16 570.49L1186.56 571.06L1187.97 571.64L1189.37 572.21L1190.77 572.79L1192.17 573.36L1193.57 573.94L1194.97 574.52L1196.37 575.11L1197.78 575.69L1199.18 576.27L1200.58 576.86L1201.98 577.45L1203.38 578.04L1204.78 578.63L1206.18 579.23L1207.58 579.82L1208.99 580.42L1210.39 581.03L1211.79 581.63L1213.19 582.24L1214.59 582.85L1215.99 583.47L1217.39 584.08L1218.80 584.70L1220.20 585.33L1221.60 585.96L1223.00 586.59L1224.40 587.22L1225.80 587.86L1227.20 588.51L1228.60 589.15L1230.01 589.80L1231.41 590.46L1232.81 591.12L1234.21 591.79L1235.61 592.46L1237.01 593.13L1238.41 593.81L1239.82 594.50L1241.22 595.19L1242.62 595.89L1244.02 596.59L1245.42 597.30L1246.82 598.02L1248.22 598.74L1249.62 599.46L1251.03 600.20L1252.43 600.94L1253.83 601.68L1255.23 602.44L1256.63 603.20L1258.03 603.96L1259.43 604.74L1260.84 605.52L1262.24 606.31L1263.64 607.11L1265.04 607.91L1266.44 608.73L1267.84 609.55L1269.24 610.38L1270.64 611.22L1272.05 612.07L1273.45 612.92L1274.85 613.79L1276.25 614.66L1277.65 615.55L1279.05 616.44L1280.45 617.34L1281.86 618.25L1283.26 619.18L1284.66 620.11L1286.06 621.05L1287.46 622.01L1288.86 622.97L1290.26 623.94L1291.67 624.93L1293.07 625.93L1294.47 626.94L1295.87 627.96L1297.27 628.99L1298.67 630.03L1300.07 631.08L1301.47 632.15L1302.88 633.23L1304.28 634.32L1305.68 635.43L1307.08 636.55L1308.48 637.68L1309.88 638.82L1311.28 639.98L1312.69 641.15L1314.09 642.34L1315.49 643.54L1316.89 644.75L1318.29 645.98L1319.69 647.22L1321.09 648.48L1322.49 649.75L1323.90 651.03L1325.30 652.34L1326.70 653.65L1328.10 654.99" stroke="#ff0000" stroke-width="6.4"/>
</g>
<g fill="#262626" stroke="#262626" stroke-width="0.55" stroke-linejoin="round" font-size="31.25px">
<text x="133.95" y="930.20" text-anchor="middle">10<tspan font-size="25px" dy="-14.6">-1</tspan></text>
<text x="432.29" y="930.20" text-anchor="middle">10<tspan font-size="25px" dy="-14.6">0</tspan></text>
<text x="730.62" y="930.20" text-anchor="middle">10<tspan font-size="25px" dy="-14.6">1</tspan></text>
<text x="1028.96" y="930.20" text-anchor="middle">10<tspan font-size="25px" dy="-14.6">2</tspan></text>
<text x="1327.30" y="930.20" text-anchor="middle">10<tspan font-size="25px" dy="-14.6">3</tspan></text>
<text x="122.10" y="826.95" text-anchor="end">10<tspan font-size="25px" dy="-14.6">-30</tspan></text>
<text x="122.10" y="694.54" text-anchor="end">10<tspan font-size="25px" dy="-14.6">-28</tspan></text>
<text x="122.10" y="562.13" text-anchor="end">10<tspan font-size="25px" dy="-14.6">-26</tspan></text>
<text x="122.10" y="429.72" text-anchor="end">10<tspan font-size="25px" dy="-14.6">-24</tspan></text>
<text x="122.10" y="297.32" text-anchor="end">10<tspan font-size="25px" dy="-14.6">-22</tspan></text>
<text x="122.10" y="164.91" text-anchor="end">10<tspan font-size="25px" dy="-14.6">-20</tspan></text>
<text x="122.10" y="32.50" text-anchor="end">10<tspan font-size="25px" dy="-14.6">-18</tspan></text>
</g>
<g fill="#262626" stroke="#262626" stroke-width="0.55" stroke-linejoin="round" font-size="34.0px">
<text x="734.6" y="975.3" text-anchor="middle">Distance from Geminga (pc)</text>
<text transform="translate(34.4 556.6) rotate(-90)">N (GeV<tspan font-size="26.3px" dy="-16" dx="-1.8">-1</tspan><tspan dy="16"> cm</tspan><tspan font-size="26.3px" dy="-16" dx="-1.8">-3</tspan><tspan dy="16">)</tspan></text>
</g>
<rect x="166.4" y="608.5" width="374.20" height="236.00" fill="#fff" stroke="#262626" stroke-width="1.9"/>
<path d="M175.6 641.1H245.7" stroke="#0000ff" stroke-width="6.4" stroke-dasharray="22.3 22.2" fill="none"/>
<path d="M175.6 698.0H245.7" stroke="#0000ff" stroke-width="3.1" fill="none"/>
<path d="M175.6 755.2H245.7" stroke="#ff0000" stroke-width="6.4" stroke-dasharray="22.3 22.2" fill="none"/>
<path d="M175.6 812.0H245.7" stroke="#ff0000" stroke-width="6.4" fill="none"/>
<g fill="#000" stroke="#000" stroke-width="0.55" stroke-linejoin="round" font-size="28.1px">
<text x="251.8" y="651.20">D<tspan font-size="22.5px" dy="12.5">0</tspan><tspan dy="-12.5">=5×10</tspan><tspan font-size="22.5px" dy="-13">25</tspan><tspan dy="13" dx="1.6">, normal</tspan></text>
<text x="251.8" y="708.10">D<tspan font-size="22.5px" dy="12.5">0</tspan><tspan dy="-12.5">=5×10</tspan><tspan font-size="22.5px" dy="-13">25</tspan><tspan dy="13" dx="1.6">, relativistic</tspan></text>
<text x="251.8" y="765.30">D<tspan font-size="22.5px" dy="12.5">0</tspan><tspan dy="-12.5">=2×10</tspan><tspan font-size="22.5px" dy="-13">29</tspan><tspan dy="13" dx="1.6">, normal</tspan></text>
<text x="251.8" y="822.10">D<tspan font-size="22.5px" dy="12.5">0</tspan><tspan dy="-12.5">=2×10</tspan><tspan font-size="22.5px" dy="-13">29</tspan><tspan dy="13" dx="1.6">, relativistic</tspan></text>
</g>
</svg>
</body></html>
